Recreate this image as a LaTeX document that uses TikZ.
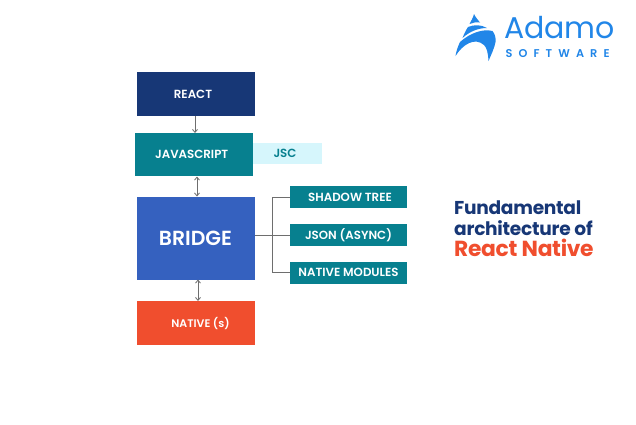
\documentclass[tikz,border=0pt]{standalone}
\usepackage{fontspec}
\setmainfont{Poppins}
\newfontfamily\popsb{Poppins SemiBold}
\newfontfamily\popb[LetterSpace=-1.5]{Poppins Bold}
\newfontfamily\poplt{Poppins}
\newfontfamily\popspaced[LetterSpace=54]{Poppins SemiBold}
\usetikzlibrary{arrows.meta}
\definecolor{navy}{HTML}{173776}
\definecolor{teal1}{HTML}{07808F}
\definecolor{ice}{HTML}{D6F6FC}
\definecolor{blue1}{HTML}{3561BF}
\definecolor{red1}{HTML}{F04E2E}
\definecolor{logoblue}{HTML}{2186E8}
\definecolor{line1}{HTML}{6E6E6E}
\tikzset{
 box/.style={minimum height=#1,inner sep=0pt,text=white,font=\popsb\fontsize{11.8}{14}\selectfont},
 wide/.style={minimum width=118pt},
 side/.style={fill=teal1,minimum width=117pt,minimum height=22pt,inner sep=0pt,text=white,font=\popsb\fontsize{11.8}{14}\selectfont},
 conn/.style={draw=line1,line width=0.8pt},
 biarrow/.style={conn,{Straight Barb[length=3pt,width=5pt]}-{Straight Barb[length=3pt,width=5pt]}},
 onearrow/.style={conn,-{Straight Barb[length=3pt,width=5pt]}},
 title/.style={anchor=west,inner sep=0pt,text=navy,font=\popb\fontsize{18.6}{20}\selectfont},
}
\begin{document}
\begin{tikzpicture}[x=1pt,y=-1pt]
\useasboundingbox (0,0) rectangle (636,424);
\fill[white] (0,0) rectangle (636,424);
\node[box=44pt,wide,fill=navy] (react) at (195.5,94) {\hspace{-5pt}\raisebox{-1pt}{REACT}};
\node[box=43.5pt,wide,minimum width=117.5pt,fill=teal1] (js) at (194.2,154.7) {\hspace{-5pt}\raisebox{1.5pt}{JAVASCRIPT}};
\node[box=21pt,minimum width=69pt,fill=ice,text=teal1] (jsc) at (287.5,153) {\hspace{-5pt}JSC};
\node[box=83pt,wide,fill=blue1,font=\popsb\fontsize{20.4}{24}\selectfont] (bridge) at (195.5,238) {\raisebox{-2pt}{BRIDGE}};
\node[box=44pt,wide,fill=red1,font=\popsb\fontsize{11}{14}\selectfont] (native) at (195.5,323) {\hspace{10pt}NATIVE (s)};
\node[side] (shadow) at (348.5,197) {\hspace{3pt}SHADOW TREE};
\node[side] (json) at (348.5,235) {\raisebox{1pt}{JSON (ASYNC)}};
\node[side] (mods) at (348.5,272.5) {\raisebox{.5pt}{NATIVE MODULES}};
\coordinate (t1) at (272.5,197);
\coordinate (t3) at (272.5,272.5);
\draw[onearrow] (195,116) -- (195,133);
\draw[biarrow] (197,176.5) -- (197,196.5);
\draw[biarrow] (198,279.5) -- (198,301);
\draw[conn] (shadow.west) -- (t1) -- (t3) -- (mods.west);
\draw[conn] (bridge.east |- json) -- (json.west);
\node[title] (t1a) at (454,208) {Fundamental};
\node[title] (t2a) at (454,228) {architecture of};
\node[title,text=red1,font=\popb\fontsize{21.8}{24}\selectfont] (t3a) at (454,248) {React Native};
\fill[logoblue] (474,14) .. controls (476,18) and (478,20) .. (480,22.5) .. controls (476,22) and (473,22.5) .. (469.5,24) .. controls (471,21) and (473,18) .. (474,14) -- cycle;
\fill[logoblue] (468,27) .. controls (474,24.5) and (481,24.5) .. (487,28) .. controls (479,28) and (470,31) .. (462.5,38) .. controls (464,34) and (466,30) .. (468,27) -- cycle;
\fill[logoblue] (460,42) .. controls (470,33) and (483,28.5) .. (492.5,31) .. controls (495,34) and (496,38) .. (495.5,42) .. controls (494.5,48) and (491,55) .. (488.5,61) .. controls (488,53) and (487,48) .. (484,45) .. controls (475,37) and (463,44) .. (455.5,56) .. controls (456,52) and (458,46) .. (460,42) -- cycle;
\node[anchor=base west,inner sep=0pt,text=logoblue,font=\poplt\fontsize{30}{32}\selectfont] (adamo) at (504,38) {Adamo};
\node[anchor=base west,inner sep=0pt,text=logoblue,font=\popspaced\fontsize{11.3}{12}\selectfont] (soft) at (505.5,57) {SOFTWARE};
\end{tikzpicture}
\end{document}
